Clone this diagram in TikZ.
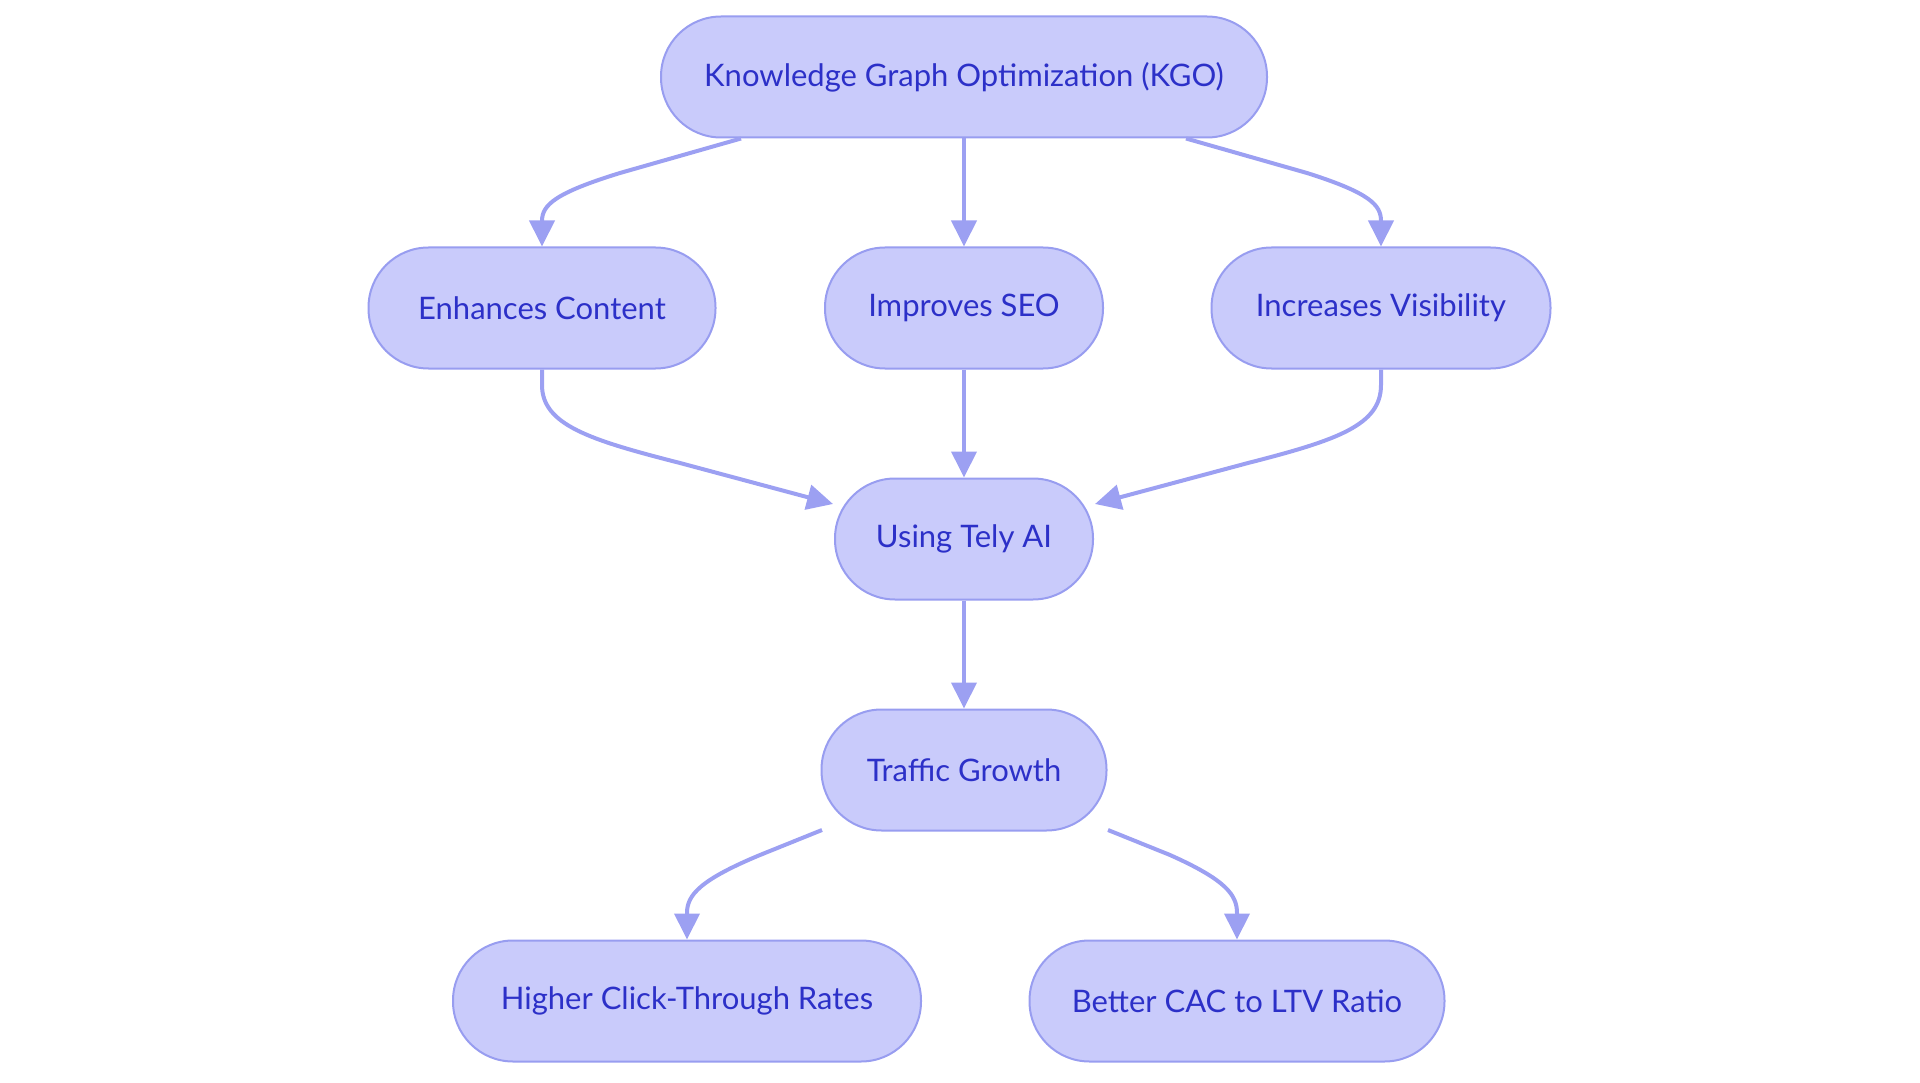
\documentclass[tikz,border=0pt]{standalone}
\usepackage{fontspec}
\setmainfont{Lato}
\usetikzlibrary{arrows.meta}
\definecolor{nodefill}{RGB}{201,203,251}
\definecolor{nodeborder}{RGB}{152,157,240}
\definecolor{edgecol}{RGB}{156,160,242}
\definecolor{textcol}{RGB}{44,48,200}
\tikzset{
  box/.style={draw=nodeborder, line width=2pt, fill=nodefill, rounded corners=60pt,
    minimum height=121pt, inner sep=0pt, text=textcol,
    font=\fontsize{31pt}{36pt}\selectfont},
  edge/.style={draw=edgecol, line width=4pt, -{Triangle[length=26pt,width=25pt]}},
}
\begin{document}
\begin{tikzpicture}[x=1pt,y=-1pt]
\useasboundingbox (0,0) rectangle (1920,1083);
\node[box, minimum width=606pt] (kgo) at (964,77) {Knowledge Graph Optimization (KGO)};
\node[box, minimum width=347pt] (enh) at (542,308) {Enhances Content};
\node[box, minimum width=278pt] (seo) at (964,308) {Improves SEO};
\node[box, minimum width=339pt] (vis) at (1381,308) {Increases Visibility};
\node[box, minimum width=258pt] (tely) at (964,539) {Using Tely AI};
\node[box, minimum width=285pt] (traf) at (964,770) {Traffic Growth};
\node[box, minimum width=468pt] (ctr) at (687,1001) {Higher Click-Through Rates};
\node[box, minimum width=415pt] (cac) at (1237,1001) {Better CAC to LTV Ratio};

\draw[edge] ([xshift=-223pt]kgo.south) -- (620,173) .. controls (555,193) and (542,205) .. (542,221) -- (enh.north);
\draw[edge] (kgo.south) -- (seo.north);
\draw[edge] ([xshift=222pt]kgo.south) -- (1307,173) .. controls (1370,193) and (1381,205) .. (1381,221) -- (vis.north);

\coordinate (tl) at (833,504);
\coordinate (tr) at (1095,504);
\draw[edge] (enh.south) -- (542,385) .. controls (542,425) and (590,440) .. (680,463) -- (tl);
\draw[edge] (seo.south) -- (tely.north);
\draw[edge] (vis.south) -- (1381,385) .. controls (1381,425) and (1338,440) .. (1248,463) -- (tr);

\draw[edge] (tely.south) -- (traf.north);

\coordinate (bl) at (822,830);
\coordinate (br) at (1108,830);
\draw[edge] (bl) -- (760,855) .. controls (700,880) and (687,895) .. (687,913) -- (ctr.north);
\draw[edge] (br) -- (1170,855) .. controls (1226,880) and (1237,895) .. (1237,913) -- (cac.north);
\end{tikzpicture}
\end{document}
